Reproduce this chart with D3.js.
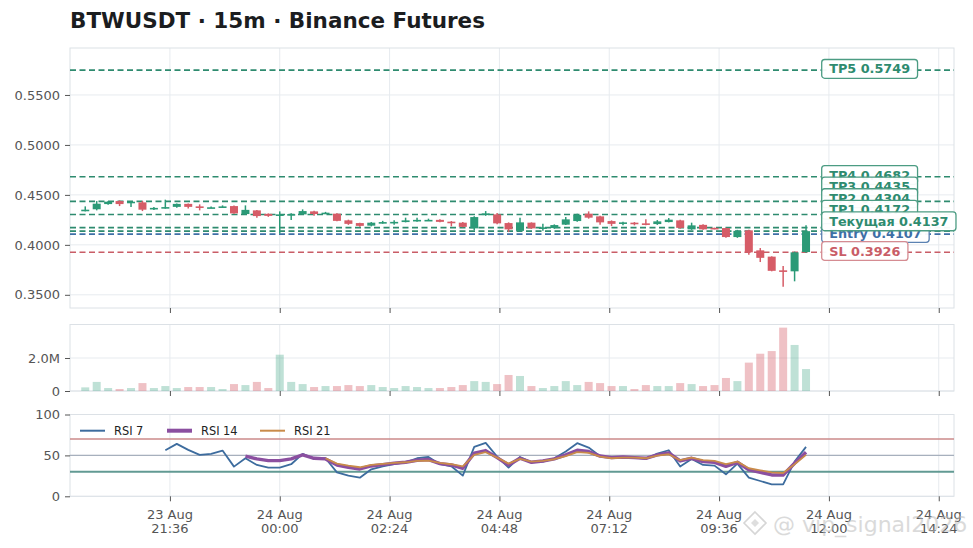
<!DOCTYPE html>
<html>
<head>
<meta charset="utf-8">
<script src="https://cdnjs.cloudflare.com/ajax/libs/d3/7.8.5/d3.min.js"></script>
<style>
    body { margin: 0; background: #fff; }
    #chart { width: 973px; height: 548px; }
    text { font-family: "DejaVu Sans", sans-serif; }
</style>
</head>
<body>
<div id="chart"></div>
<script>
// 15m bars, first bar 23 Aug 19:45 UTC
const firstBar = Date.UTC(2025, 7, 23, 19, 45);
const barMinutes = 15;

const opens = [
    0.4340, 0.4356, 0.4408, 0.4438, 0.4418, 0.4425, 0.4355, 0.4365, 0.4380, 0.4410,
    0.4385, 0.4372, 0.4375, 0.4388, 0.4308, 0.4345, 0.4310, 0.4295, 0.4295, 0.4305,
    0.4335, 0.4318, 0.4312, 0.4245, 0.4218, 0.4192, 0.4215, 0.4225, 0.4228, 0.4238,
    0.4245, 0.4250, 0.4232, 0.4222, 0.4165, 0.4298, 0.4305, 0.4218, 0.4140, 0.4222,
    0.4160, 0.4168, 0.4202, 0.4238, 0.4312, 0.4285, 0.4238, 0.4210, 0.4222, 0.4215,
    0.4208, 0.4228, 0.4245, 0.4155, 0.4200, 0.4170, 0.4168, 0.4078, 0.4145, 0.3945,
    0.3882, 0.3745, 0.3735, 0.3928
];
const highs = [
    0.4385, 0.4438, 0.4440, 0.4445, 0.4440, 0.4440, 0.4378, 0.4452, 0.4415, 0.4415,
    0.4405, 0.4385, 0.4395, 0.4395, 0.4395, 0.4350, 0.4315, 0.4335, 0.4315, 0.4355,
    0.4340, 0.4330, 0.4315, 0.4252, 0.4222, 0.4228, 0.4240, 0.4245, 0.4272, 0.4270,
    0.4262, 0.4255, 0.4238, 0.4228, 0.4285, 0.4338, 0.4318, 0.4225, 0.4272, 0.4225,
    0.4212, 0.4205, 0.4278, 0.4312, 0.4335, 0.4290, 0.4245, 0.4232, 0.4228, 0.4255,
    0.4248, 0.4268, 0.4252, 0.4222, 0.4205, 0.4172, 0.4172, 0.4150, 0.4150, 0.3968,
    0.3885, 0.3788, 0.3932, 0.4195
];
const lows = [
    0.4335, 0.4345, 0.4402, 0.4388, 0.4380, 0.4338, 0.4350, 0.4362, 0.4372, 0.4365,
    0.4345, 0.4368, 0.4372, 0.4310, 0.4300, 0.4272, 0.4280, 0.4112, 0.4248, 0.4300,
    0.4290, 0.4310, 0.4235, 0.4200, 0.4180, 0.4185, 0.4212, 0.4202, 0.4225, 0.4230,
    0.4240, 0.4225, 0.4185, 0.4175, 0.4145, 0.4290, 0.4205, 0.4128, 0.4135, 0.4160,
    0.4140, 0.4160, 0.4198, 0.4232, 0.4262, 0.4202, 0.4188, 0.4195, 0.4195, 0.4195,
    0.4200, 0.4225, 0.4162, 0.4150, 0.4150, 0.4155, 0.4072, 0.4070, 0.3902, 0.3828,
    0.3735, 0.3580, 0.3635, 0.3920
];
const closes = [
    0.4352, 0.4412, 0.4432, 0.4408, 0.4432, 0.4352, 0.4370, 0.4378, 0.4410, 0.4380,
    0.4372, 0.4376, 0.4385, 0.4315, 0.4350, 0.4288, 0.4290, 0.4305, 0.4308, 0.4338,
    0.4308, 0.4322, 0.4240, 0.4210, 0.4190, 0.4222, 0.4228, 0.4230, 0.4245, 0.4250,
    0.4250, 0.4230, 0.4220, 0.4180, 0.4278, 0.4315, 0.4215, 0.4155, 0.4225, 0.4165,
    0.4175, 0.4198, 0.4255, 0.4300, 0.4272, 0.4225, 0.4210, 0.4225, 0.4208, 0.4212,
    0.4235, 0.4252, 0.4170, 0.4195, 0.4155, 0.4162, 0.4078, 0.4140, 0.3925, 0.3870,
    0.3740, 0.3740, 0.3925, 0.4137
];
// volume in millions
const volumes = [
    0.22, 0.55, 0.18, 0.12, 0.18, 0.48, 0.18, 0.30, 0.18, 0.24,
    0.24, 0.24, 0.12, 0.42, 0.36, 0.55, 0.18, 2.20, 0.55, 0.42,
    0.24, 0.30, 0.30, 0.36, 0.30, 0.36, 0.24, 0.18, 0.30, 0.24,
    0.18, 0.18, 0.24, 0.36, 0.60, 0.55, 0.42, 0.97, 0.91, 0.30,
    0.18, 0.30, 0.60, 0.36, 0.55, 0.48, 0.30, 0.30, 0.12, 0.36,
    0.30, 0.30, 0.48, 0.42, 0.30, 0.36, 0.79, 0.60, 1.72, 2.26,
    2.42, 3.84, 2.79, 1.33
];
const rsi7 = [
    null, null, null, null, null, null, null, 56.3, 64.1, 56.7,
    50.6, 51.8, 55.9, 36.3, 46.5, 38.3, 35.1, 35.1, 39.2, 51.8,
    45.7, 46.5, 29.3, 25.3, 22.8, 33.0, 36.7, 39.2, 41.6, 46.5,
    48.1, 39.2, 36.7, 25.3, 60.4, 65.3, 48.5, 35.1, 48.1, 41.6,
    42.4, 46.5, 54.7, 64.9, 59.6, 49.0, 47.3, 48.1, 47.3, 45.7,
    52.2, 56.3, 36.3, 45.7, 38.3, 37.5, 26.9, 40.0, 22.8, 18.7,
    14.6, 14.6, 42.4, 60.4
];
const rsi14 = [
    null, null, null, null, null, null, null, null, null, null,
    null, null, null, null, 49.0, 45.7, 43.6, 43.6, 45.7, 50.6,
    46.5, 45.7, 38.3, 35.5, 33.4, 37.1, 38.7, 40.4, 41.6, 44.1,
    44.9, 40.0, 38.3, 34.3, 52.6, 55.9, 47.3, 38.3, 46.5, 41.6,
    43.2, 45.7, 50.6, 56.3, 54.7, 49.2, 47.3, 48.1, 47.3, 46.5,
    50.6, 53.0, 43.2, 46.5, 42.4, 41.6, 36.7, 41.6, 32.2, 29.3,
    26.1, 26.1, 40.4, 53.9
];
const rsi21 = [
    null, null, null, null, null, null, null, null, null, null,
    null, null, null, null, null, null, null, null, null, null,
    null, 46.5, 40.0, 37.5, 35.5, 38.3, 39.6, 40.8, 41.6, 43.2,
    43.6, 40.8, 39.2, 36.7, 50.6, 53.9, 47.3, 40.0, 45.7, 42.4,
    43.2, 45.3, 49.0, 53.9, 53.0, 48.5, 46.5, 47.3, 47.3, 46.5,
    49.8, 51.4, 44.1, 47.3, 44.1, 43.2, 39.2, 42.4, 34.3, 31.8,
    29.3, 28.5, 39.2, 50.6
];

const levelNames = ['TP5', 'TP4', 'TP3', 'TP2', 'TP1', 'Entry', 'SL'];
const levelValues = [0.5749, 0.4682, 0.4435, 0.4304, 0.4172, 0.4107, 0.3926];
const currentName = 'Текущая';
const currentPrice = 0.4137;

const priceTicks = [0.35, 0.40, 0.45, 0.50, 0.55];
const volumeTicks = [0, 2];
const rsiTicks = [0, 50, 100];
const rsiGuides = [70, 50, 30];
const timeTicks = [
    '2025-08-23T21:36:00Z', '2025-08-24T00:00:00Z', '2025-08-24T02:24:00Z', '2025-08-24T04:48:00Z',
    '2025-08-24T07:12:00Z', '2025-08-24T09:36:00Z', '2025-08-24T12:00:00Z', '2025-08-24T14:24:00Z'
].map(s => new Date(s));
const rsiSeries = [
    { label: 'RSI 7', values: rsi7 },
    { label: 'RSI 14', values: rsi14 },
    { label: 'RSI 21', values: rsi21 }
];

class SignalChart {
    constructor() {
        this.width = 973;
        this.height = 548;
        this.svg = d3.select('#chart')
            .append('svg')
            .attr('width', this.width)
            .attr('height', this.height);

        this.colors = {
            up: '#2b9a77',
            down: '#d65c67',
            grid: '#e7ebef',
            frame: '#dce1e6',
            tickText: '#555',
            tp: '#2e8b6f',
            entry: '#3e6fa6',
            sl: '#c95d67',
            rsi: ['#3d6c9e', '#8b4fa0', '#c98b4a']
        };

        this.x = d3.scaleUtc()
            .domain([new Date(Date.UTC(2025, 7, 23, 19, 25)), new Date(Date.UTC(2025, 7, 24, 14, 44))])
            .range([70, 954]);

        this.bars = opens.map((o, i) => ({
            t: new Date(firstBar + i * barMinutes * 60000),
            o: o, h: highs[i], l: lows[i], c: closes[i], v: volumes[i]
        }));

        this.yPrice = d3.scaleLinear().domain([0.3368, 0.5970]).range([308, 48]);
        this.yVol = d3.scaleLinear().domain([0, 4.03]).range([391, 324.5]);
        this.yRsi = d3.scaleLinear().domain([0, 100]).range([496.3, 414.5]);

        this.drawTitle();
        this.drawPanel(this.yPrice, priceTicks, d3.format('.4f'));
        this.drawPanel(this.yVol, volumeTicks, d => d === 0 ? '0' : d.toFixed(1) + 'M');
        this.drawPanel(this.yRsi, rsiTicks, d3.format('d'));
        this.drawLevelLines();
        this.drawCandles();
        this.drawVolume();
        this.drawRsi();
        this.drawTimeLabels();
        this.drawLevelLabels();
        this.drawWatermark();
    }

    drawTitle() {
        this.svg.append('text')
            .attr('x', 70)
            .attr('y', 28)
            .attr('font-size', '21.5px')
            .attr('font-weight', 'bold')
            .attr('fill', '#1b1d1f')
            .text('BTWUSDT · 15m · Binance Futures');
    }

    drawPanel(y, ticks, fmt) {
        const [bottom, top] = y.range();
        const [left, right] = this.x.range();
        const g = this.svg.append('g');

        // grid
        g.selectAll('.vgrid')
            .data(timeTicks)
            .join('line')
            .attr('x1', d => this.x(d)).attr('x2', d => this.x(d))
            .attr('y1', top).attr('y2', bottom)
            .attr('stroke', this.colors.grid);
        g.selectAll('.hgrid')
            .data(ticks)
            .join('line')
            .attr('x1', left).attr('x2', right)
            .attr('y1', d => y(d)).attr('y2', d => y(d))
            .attr('stroke', this.colors.grid);

        g.append('rect')
            .attr('x', left).attr('y', top)
            .attr('width', right - left).attr('height', bottom - top)
            .attr('fill', 'none')
            .attr('stroke', this.colors.frame);

        const yAxis = g.append('g')
            .attr('transform', `translate(${left},0)`)
            .call(d3.axisLeft(y).tickValues(ticks).tickSize(5).tickPadding(5).tickFormat(fmt));
        const xAxis = g.append('g')
            .attr('transform', `translate(0,${bottom})`)
            .call(d3.axisBottom(this.x).tickValues(timeTicks).tickSize(5).tickFormat(''));

        [yAxis, xAxis].forEach(a => {
            a.select('.domain').remove();
            a.selectAll('line').attr('stroke', '#555');
            a.selectAll('text')
                .attr('fill', this.colors.tickText)
                .attr('font-size', '13px')
                .attr('font-family', '"DejaVu Sans", sans-serif');
        });
    }

    levelColor(name) {
        if (name === 'Entry') return this.colors.entry;
        if (name === 'SL') return this.colors.sl;
        return this.colors.tp;
    }

    drawLevelLines() {
        const [left, right] = this.x.range();
        const lines = levelNames.map((n, i) => ({ name: n, value: levelValues[i] }))
            .concat([{ name: currentName, value: currentPrice }]);

        this.svg.selectAll('.level-line')
            .data(lines)
            .join('line')
            .attr('class', 'level-line')
            .attr('x1', left).attr('x2', right)
            .attr('y1', d => this.yPrice(d.value)).attr('y2', d => this.yPrice(d.value))
            .attr('stroke', d => this.levelColor(d.name))
            .attr('stroke-width', 1.6)
            .attr('stroke-dasharray', '6,3.5');
    }

    drawCandles() {
        const y = this.yPrice;
        const g = this.svg.append('g');
        const color = d => d.c >= d.o ? this.colors.up : this.colors.down;

        g.selectAll('.wick')
            .data(this.bars)
            .join('line')
            .attr('x1', d => this.x(d.t)).attr('x2', d => this.x(d.t))
            .attr('y1', d => y(d.h)).attr('y2', d => y(d.l))
            .attr('stroke', color)
            .attr('stroke-width', 1.5);

        g.selectAll('.body')
            .data(this.bars)
            .join('rect')
            .attr('x', d => this.x(d.t) - 4)
            .attr('width', 8)
            .attr('y', d => y(Math.max(d.o, d.c)))
            .attr('height', d => Math.max(1.6, Math.abs(y(d.o) - y(d.c))))
            .attr('fill', color);
    }

    drawVolume() {
        const y = this.yVol;
        this.svg.append('g')
            .selectAll('rect')
            .data(this.bars)
            .join('rect')
            .attr('x', d => this.x(d.t) - 4)
            .attr('width', 8)
            .attr('y', d => y(d.v))
            .attr('height', d => y(0) - y(d.v))
            .attr('fill', d => d.c >= d.o ? this.colors.up : this.colors.down)
            .attr('fill-opacity', d => d.c >= d.o ? 0.3 : 0.38);
    }

    drawRsi() {
        const y = this.yRsi;
        const [left, right] = this.x.range();
        const g = this.svg.append('g');
        const guideColors = { 70: '#cb8a8a', 50: '#a7b0bd', 30: '#629a93' };
        const guideWidths = { 70: 1.6, 50: 1.1, 30: 1.8 };

        g.selectAll('.guide')
            .data(rsiGuides)
            .join('line')
            .attr('x1', left).attr('x2', right)
            .attr('y1', d => y(d)).attr('y2', d => y(d))
            .attr('stroke', d => guideColors[d])
            .attr('stroke-width', d => guideWidths[d]);

        const widths = [1.8, 3.4, 1.8];
        const line = d3.line()
            .defined(d => d.v !== null)
            .x(d => this.x(d.t))
            .y(d => y(d.v));

        rsiSeries.forEach((s, k) => {
            const pts = s.values.map((v, i) => ({ t: this.bars[i].t, v: v }));
            g.append('path')
                .datum(pts)
                .attr('d', line)
                .attr('fill', 'none')
                .attr('stroke', this.colors.rsi[k])
                .attr('stroke-width', widths[k])
                .attr('stroke-linejoin', 'round');
        });

        // legend
        const legendX = [80, 167, 260];
        const legend = g.selectAll('.legend')
            .data(rsiSeries)
            .join('g')
            .attr('transform', (d, k) => `translate(${legendX[k]},430.7)`);
        legend.append('line')
            .attr('x1', 0).attr('x2', 25)
            .attr('stroke', (d, k) => this.colors.rsi[k])
            .attr('stroke-width', (d, k) => k === 1 ? 4 : 2);
        legend.append('text')
            .attr('x', 34)
            .attr('y', 4.2)
            .attr('font-size', '11.4px')
            .attr('fill', '#222')
            .text(d => d.label);
    }

    drawTimeLabels() {
        const labels = this.svg.append('g')
            .selectAll('text')
            .data(timeTicks)
            .join('text')
            .attr('text-anchor', 'middle')
            .attr('font-size', '13px')
            .attr('fill', this.colors.tickText);
        labels.append('tspan')
            .attr('x', d => this.x(d)).attr('y', 518.5)
            .text(d => d3.utcFormat('%d %b')(d));
        labels.append('tspan')
            .attr('x', d => this.x(d)).attr('y', 533.3)
            .text(d => d3.utcFormat('%H:%M')(d));
    }

    drawLevelLabels() {
        const items = levelNames.map((n, i) => ({ name: n, value: levelValues[i], current: false }))
            .concat([{ name: currentName, value: currentPrice, current: true }]);

        // push labels upward so they do not pile on each other
        let prev = Infinity;
        items.slice().sort((a, b) => a.value - b.value).forEach(d => {
            d.ly = Math.min(this.yPrice(d.value) - 1.2, prev - 11.6);
            prev = d.ly;
        });

        const order = items.filter(d => !d.current).sort((a, b) => b.value - a.value)
            .concat(items.filter(d => d.current));
        const strokeFor = d => d.name === 'SL' ? '#d58c92' : (d.name === 'Entry' ? '#5b82b2' : '#4c9c83');

        order.forEach(d => {
            const g = this.svg.append('g').attr('transform', `translate(821.7,${d.ly})`);
            const rect = g.append('rect');
            const text = g.append('text')
                .attr('x', 7.5)
                .attr('dy', '0.36em')
                .attr('font-size', '12.8px')
                .attr('font-weight', 'bold')
                .attr('fill', this.levelColor(d.name))
                .text(`${d.name} ${d.value.toFixed(4)}`);
            const w = text.node().getComputedTextLength() + 15;
            rect.attr('x', 0).attr('y', -9.4)
                .attr('width', w).attr('height', 18.8)
                .attr('rx', 3)
                .attr('fill', '#fff')
                .attr('fill-opacity', 0.95)
                .attr('stroke', strokeFor(d))
                .attr('stroke-width', 1.3);
        });
    }

    drawWatermark() {
        const g = this.svg.append('g').attr('opacity', 0.55);
        // small diamond mark
        const cx = 755, cy = 523, r = 11;
        g.append('path')
            .attr('d', `M${cx},${cy - r}L${cx + r},${cy}L${cx},${cy + r}L${cx - r},${cy}Z`)
            .attr('fill', 'none')
            .attr('stroke', '#b5b5b5')
            .attr('stroke-width', 1.6);
        g.append('path')
            .attr('d', `M${cx},${cy - 4}L${cx + 4},${cy}L${cx},${cy + 4}L${cx - 4},${cy}Z`)
            .attr('fill', '#c4c4c4');
        g.append('text')
            .attr('x', 773)
            .attr('y', 532)
            .attr('font-size', '22px')
            .attr('fill', '#bdbdbd')
            .text('@ vip_signal2026');
    }
}

new SignalChart();
</script>
</body>
</html>
